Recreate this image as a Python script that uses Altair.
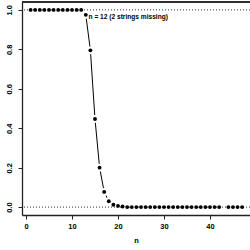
import altair as alt
import pandas as pd

n_vals = [i for i in range(1, 48) if i != 43]
p_map = {13: 0.975, 14: 0.795, 15: 0.447, 16: 0.2, 17: 0.077, 18: 0.03,
         19: 0.012, 20: 0.006, 21: 0.003}
p_vals = [1.0 if i <= 12 else p_map.get(i, 0.0) for i in n_vals]
seg_vals = ["a" if i < 43 else "b" for i in n_vals]
ref_lines = [0.0, 1.0]
x_ticks = [0, 10, 20, 30, 40]
y_ticks = [0.0, 0.2, 0.4, 0.6, 0.8, 1.0]
label_text = "n = 12 (2 strings missing)"

df = pd.DataFrame({"n": n_vals, "p": p_vals, "seg": seg_vals})
refs = pd.DataFrame({"h": ref_lines})
lab = pd.DataFrame({"n": [13.6], "p": [0.965], "t": [label_text]})

W, H = 228, 213
FONT = "Liberation Sans"

xs = alt.Scale(domain=[-0.87, 48.7], nice=False, zero=False)
ys = alt.Scale(domain=[-0.04, 1.04], nice=False, zero=False)

x_axis = alt.Axis(values=x_ticks, title="n", grid=False, domainColor="#222222",
                  tickColor="#222222", tickSize=4, labelPadding=3, labelFont=FONT,
                  labelFontSize=7.5, labelFontWeight="bold", labelColor="black",
                  titleFont=FONT, titleFontSize=7.5, titleFontWeight="bold",
                  titleColor="black", titlePadding=7, domainWidth=1.3, tickWidth=1,
                  labelFlush=False)
y_axis = alt.Axis(values=y_ticks, title=None, grid=False, domainColor="#222222",
                  tickColor="#222222", tickSize=4, labelPadding=5, labelFont=FONT,
                  labelFontSize=7.5, labelFontWeight="bold", labelColor="black",
                  labelAngle=270, labelAlign="center", labelBaseline="bottom",
                  format=".1f", domainWidth=1.3, tickWidth=1, labelFlush=False)

line = alt.Chart(df).mark_line(color="black", strokeWidth=1).encode(
    x=alt.X("n:Q", scale=xs, axis=x_axis),
    y=alt.Y("p:Q", scale=ys, axis=y_axis),
    detail="seg:N",
)
halo = alt.Chart(df).mark_circle(color="white", opacity=1, size=60).encode(
    x=alt.X("n:Q", scale=xs), y=alt.Y("p:Q", scale=ys)
)
rules = alt.Chart(refs).mark_rule(color="#333333", strokeDash=[1, 2], strokeWidth=1).encode(
    y=alt.Y("h:Q", scale=ys)
)
pts = alt.Chart(df).mark_circle(color="black", opacity=1, size=15).encode(
    x=alt.X("n:Q", scale=xs), y=alt.Y("p:Q", scale=ys)
)
txt = alt.Chart(lab).mark_text(align="left", baseline="middle", font=FONT,
                               fontSize=6.6, fontWeight="bold").encode(
    x=alt.X("n:Q", scale=xs), y=alt.Y("p:Q", scale=ys), text="t:N",
    color=alt.value("black"),
)
top = alt.Chart(refs).mark_rule(color="#222222", strokeWidth=1.3).encode(
    y=alt.value(0), x=alt.value(0), x2=alt.value(W)
)

chart = alt.layer(line, halo, rules, pts, txt, top).properties(
    width=W, height=H,
    autosize=alt.AutoSizeParams(type="none"),
    padding={"left": 22, "top": 2, "right": 0, "bottom": 35},
).configure_view(stroke=None).configure(background="white")

chart.save("out.html", embed_options={"renderer": "svg", "actions": False})
